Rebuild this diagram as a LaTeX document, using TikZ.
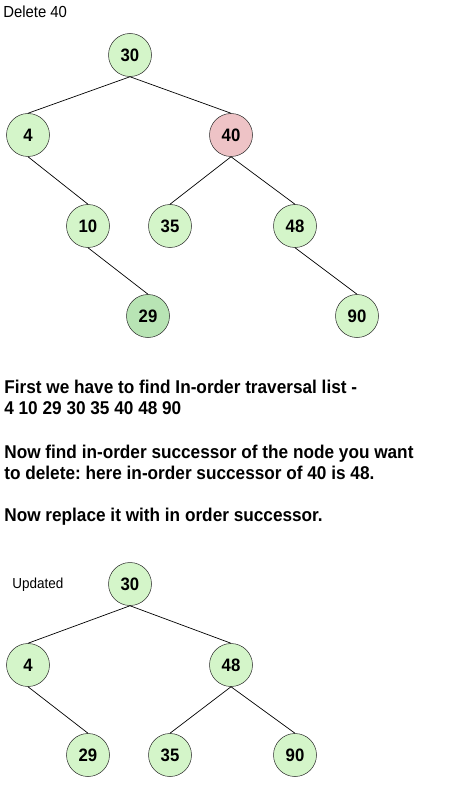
\documentclass[tikz,border=0pt]{standalone}
\usepackage{fontspec}
\setmainfont{Liberation Sans}
\newfontfamily\condfont[FakeStretch=0.93]{Liberation Sans}
\frenchspacing
\definecolor{leafgreen}{HTML}{D4F5C9}
\definecolor{darkgreen}{HTML}{B8E4B4}
\definecolor{delpink}{HTML}{EEC3C6}
\begin{document}
\begin{tikzpicture}[x=1pt, y=-1pt, line width=0.7pt,
    keynode/.style={circle,draw=black!85,line width=0.5pt,fill=leafgreen,minimum size=43pt,inner sep=0pt,font=\condfont\fontsize{18}{18}\selectfont\bfseries},
    del node/.style={keynode,fill=delpink},
    succ node/.style={keynode,fill=darkgreen},
    note/.style={anchor=west,align=left,inner sep=0pt,font=\condfont\fontsize{18.5}{21}\selectfont\bfseries} ]
    \useasboundingbox (0,0) rectangle (451,786);
    \node at (3,12) [anchor=west,inner sep=0pt,font=\condfont\fontsize{16}{16}\selectfont] (title) {Delete 40};
    % tree before deletion
    \node at (130,55) [keynode] (A) {30};
    \node at (28,135) [keynode] (B) {4};
    \node at (231,135) [del node] (C) {40};
    \node at (88,226) [keynode] (D) {10};
    \node at (170,226) [keynode] (E) {35};
    \node at (295,226) [keynode] (F) {48};
    \node at (148,316) [succ node] (G) {29};
    \node at (357,316) [keynode] (H) {90};
    \draw [-] (A.south) to (B.north);
    \draw [-] (A.south) to (C.north);
    \draw [-] (B.south) to (D.north);
    \draw [-] (C.south) to (E.north);
    \draw [-] (C.south) to (F.north);
    \draw [-] (D.south) to (G.north);
    \draw [-] (F.south) to (H.north);
    % explanation
    \node at (4,397) [note] (t1) {First we have to find In-order traversal list -\\4 10 29 30 35 40 48 90};
    \node at (4,462) [note] (t2) {Now find in-order successor of the node you want\\to delete: here in-order successor of 40 is 48.};
    \node at (4,517) [note] (t3) {Now replace it with in order successor.};
    % tree after deletion
    \node at (12,585) [anchor=west,inner sep=0pt,font=\condfont\fontsize{14.5}{14.5}\selectfont] (upd) {Updated};
    \node at (130,584) [keynode] (a) {30};
    \node at (28,665) [keynode] (b) {4};
    \node at (231,665) [keynode] (c) {48};
    \node at (88,755) [keynode] (d) {29};
    \node at (170,755) [keynode] (e) {35};
    \node at (295,755) [keynode] (f) {90};
    \draw [-] (a.south) to (b.north);
    \draw [-] (a.south) to (c.north);
    \draw [-] (b.south) to (d.north);
    \draw [-] (c.south) to (e.north);
    \draw [-] (c.south) to (f.north);
\end{tikzpicture}
\end{document}
